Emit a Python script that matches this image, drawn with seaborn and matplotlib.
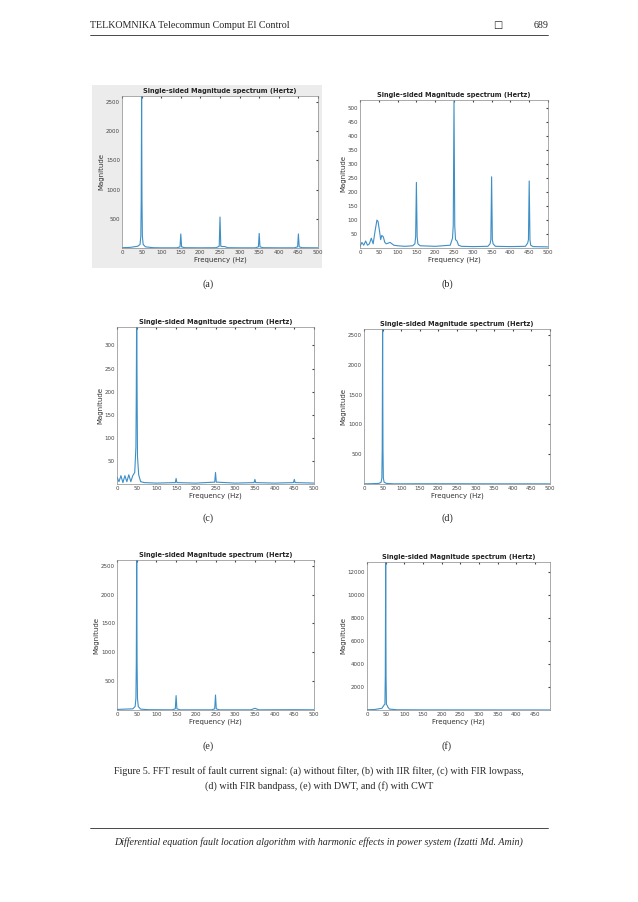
import matplotlib
matplotlib.use("Agg")
import matplotlib.pyplot as plt
import seaborn as sns

sns.set_style("white")
plt.rcParams['font.family'] = ['DejaVu Sans']

# ---- data (hand-read estimates) ----
fa = [0,20,40,46,48,49,50,51,52,54,60,80,100,140,148,150,152,160,200,240,248,250,252,256,262,270,300,340,348,350,352,360,400,440,448,450,452,460,500]
ma = [5,10,30,60,200,800,2600,800,200,60,20,5,3,3,20,240,20,5,3,5,30,530,30,25,25,5,3,3,20,250,20,5,3,3,20,240,20,5,3]
fb = [0,5,10,15,20,25,30,35,40,45,48,52,55,58,62,66,70,80,90,100,120,140,146,148,150,152,154,160,200,240,246,248,250,252,254,258,262,270,300,340,346,348,350,352,354,360,400,440,446,448,450,452,454,460,500]
mb = [5,20,10,25,10,15,35,15,60,100,95,60,30,45,40,20,15,20,10,8,6,8,15,40,235,40,15,8,6,10,35,80,525,80,30,25,10,6,5,6,15,30,255,30,15,6,5,6,18,30,240,30,10,5,4]
fc = [0,5,10,15,20,25,30,35,40,45,48,49,50,51,52,55,60,70,100,148,150,152,200,248,250,252,300,348,350,352,400,448,450,452,500]
mc = [15,5,18,3,18,5,20,5,18,25,80,200,400,200,60,20,5,3,2,3,12,3,2,4,25,4,2,3,10,3,2,3,10,3,2]
fd = [0,20,40,46,48,49,50,51,52,54,60,80,150,250,350,450,500]
md = [3,5,10,30,100,600,2600,600,100,30,10,3,4,4,3,3,2]
fe = [0,20,40,46,48,49,50,51,52,54,60,80,140,148,150,152,160,240,248,250,252,260,340,350,360,450,500]
me = [10,15,20,60,200,800,2600,800,200,60,15,5,3,20,250,20,3,3,20,260,20,3,3,30,3,5,3]
ff = [0,20,40,44,46,48,49,50,51,52,54,56,60,80,150,250,350,450,490]
mf = [20,40,150,350,450,500,3000,12900,3000,500,400,250,80,20,10,8,5,5,3]

titles = "Single-sided Magnitude spectrum (Hertz)"
color = "#3d8fc6"
W, H = 638, 902

def pos(x0, y0, x1, y1):
    return [x0 / W, 1 - y1 / H, (x1 - x0) / W, (y1 - y0) / H]

fig = plt.figure(figsize=(6.38, 9.02), dpi=100)
# gray background for (a)
bg = fig.add_axes(pos(92, 85, 322, 268), zorder=0)
bg.set_facecolor("#ececec")
bg.set_xticks([]); bg.set_yticks([])
for s in bg.spines.values():
    s.set_visible(False)

panels = [
    (fa, ma, pos(122, 96, 318, 248), (0, 500), (0, 2600), [0,50,100,150,200,250,300,350,400,450,500], [500,1000,1500,2000,2500]),
    (fb, mb, pos(360, 100, 548, 248), (0, 500), (0, 530), [0,50,100,150,200,250,300,350,400,450,500], list(range(50, 501, 50))),
    (fc, mc, pos(117, 327, 314, 484), (0, 500), (0, 340), [0,50,100,150,200,250,300,350,400,450,500], [50,100,150,200,250,300]),
    (fd, md, pos(364, 329, 550, 484), (0, 500), (0, 2600), [0,50,100,150,200,250,300,350,400,450,500], [500,1000,1500,2000,2500]),
    (fe, me, pos(117, 560, 314, 710), (0, 500), (0, 2600), [0,50,100,150,200,250,300,350,400,450,500], [500,1000,1500,2000,2500]),
    (ff, mf, pos(367, 562, 550, 710), (0, 490), (0, 12900), [0,50,100,150,200,250,300,350,400,450], [2000,4000,6000,8000,10000,12000]),
]
for f, m, p, xl, yl, xt, yt in panels:
    ax = fig.add_axes(p, zorder=2)
    ax.set_facecolor("white")
    sns.lineplot(x=f, y=m, ax=ax, color=color, linewidth=0.8, estimator=None, sort=False)
    ax.set_xlim(*xl); ax.set_ylim(*yl)
    ax.set_xticks(xt); ax.set_yticks(yt)
    ax.tick_params(labelsize=4, length=1.5, pad=1.5, colors="#444444", direction="in", top=True, right=True)
    ax.set_title(titles, fontsize=4.8, fontweight="bold", pad=2)
    ax.set_xlabel("Frequency (Hz)", fontsize=5, labelpad=1, color="#333333")
    ax.set_ylabel("Magnitude", fontsize=5, labelpad=1, color="#333333")
    for s in ax.spines.values():
        s.set_linewidth(0.5); s.set_color("#888888")

serif = "Liberation Serif"
fig.text(90 / W, 1 - 25 / H, "TELKOMNIKA Telecommun Comput El Control", fontsize=7.2, family=serif, va="center")
fig.text(493 / W, 1 - 25 / H, "\u25a1", fontsize=7, family="DejaVu Sans", va="center")
fig.text(548 / W, 1 - 25 / H, "689", fontsize=7.2, family=serif, va="center", ha="right")
fig.add_artist(plt.Line2D([90 / W, 548 / W], [1 - 35 / H] * 2, color="black", lw=0.5))
for lab, x, y in [("(a)", 208, 284), ("(b)", 447, 284), ("(c)", 208, 518), ("(d)", 447, 518), ("(e)", 208, 746), ("(f)", 447, 746)]:
    fig.text(x / W, 1 - y / H, lab, fontsize=7.2, family=serif, ha="center", va="center")
fig.text(319 / W, 1 - 771 / H, "Figure 5. FFT result of fault current signal: (a) without filter, (b) with IIR filter, (c) with FIR lowpass,",
         fontsize=7.2, family=serif, ha="center", va="center")
fig.text(319 / W, 1 - 786 / H, "(d) with FIR bandpass, (e) with DWT, and (f) with CWT",
         fontsize=7.2, family=serif, ha="center", va="center")
fig.add_artist(plt.Line2D([90 / W, 548 / W], [1 - 828 / H] * 2, color="black", lw=0.5))
fig.text(319 / W, 1 - 842 / H, "Differential equation fault location algorithm with harmonic effects in power system (Izatti Md. Amin)",
         fontsize=7.2, family=serif, style="italic", ha="center", va="center")

fig.savefig("out.png", dpi=100, facecolor="white")
